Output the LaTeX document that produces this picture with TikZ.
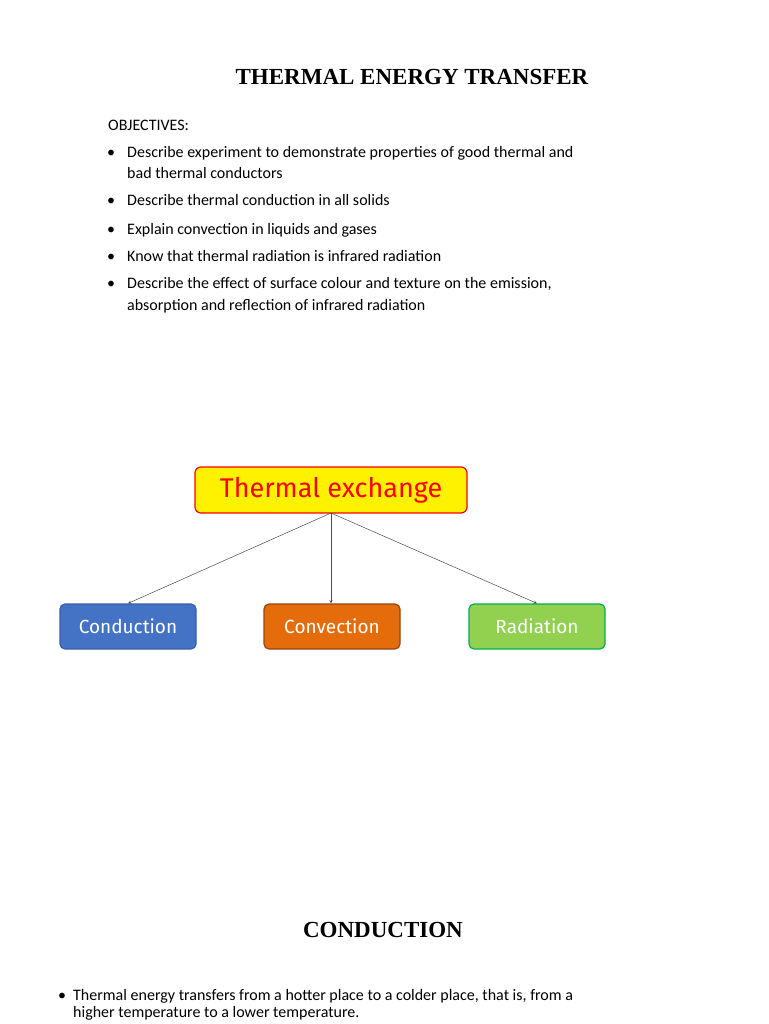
\documentclass[tikz,border=0pt]{standalone}
\usepackage{fontspec}
\setmainfont{Carlito}
\newfontfamily\ttl{Liberation Serif}
\newfontfamily\cms{Fira Sans}
\begin{document}
\begin{tikzpicture}[x=1pt,y=-1pt,
  body/.style={anchor=base west,inner sep=0pt,font=\fontsize{16}{19}\selectfont},
  bul/.style={anchor=base west,inner sep=0pt,font=\fontsize{16}{19}\selectfont},
  head/.style={inner sep=0pt,font=\ttl\bfseries\fontsize{23}{26}\selectfont},
  cat/.style={draw,rounded corners=5pt,line width=1.2pt,minimum width=136pt,minimum height=45pt,inner sep=0pt,text=white,font=\cms\fontsize{19}{22}\selectfont},
  arr/.style={draw=black!70,line width=0.5pt,->,>=stealth}]
\useasboundingbox (0,0) rectangle (768,1024);
\fill[white] (0,0) rectangle (768,1024);
\node[head] (title) at (412,77) {THERMAL ENERGY TRANSFER};
\node[body] (obj) at (108,131) {OBJECTIVES:};
\node[bul] (b1) at (107,158) {•};
\node[body] (l1) at (127,158) {Describe experiment to demonstrate properties of good thermal and};
\node[body] (l1b) at (127,179) {bad thermal conductors};
\node[bul] (b2) at (107,206) {•};
\node[body] (l2) at (127,206) {Describe thermal conduction in all solids};
\node[bul] (b3) at (107,234) {•};
\node[body] (l3) at (127,234) {Explain convection in liquids and gases};
\node[bul] (b4) at (107,261) {•};
\node[body] (l4) at (127,261) {Know that thermal radiation is infrared radiation};
\node[bul] (b5) at (107,288) {•};
\node[body] (l5) at (127,288) {Describe the effect of surface colour and texture on the emission,};
\node[body] (l5b) at (127,310) {absorption and reflection of infrared radiation};
\node[draw=red,fill=yellow,rounded corners=6pt,line width=1.2pt,minimum width=272pt,minimum height=46pt,inner sep=0pt,text=red,font=\cms\fontsize{27}{30}\selectfont] (te) at (331,490) {Thermal exchange};
\node[cat,fill={rgb,255:red,68;green,114;blue,196},draw={rgb,255:red,56;green,96;blue,170}] (cd) at (128,626.5) {Conduction};
\node[cat,fill={rgb,255:red,228;green,108;blue,10},draw={rgb,255:red,150;green,70;blue,20}] (cv) at (332,626.5) {Convection};
\node[cat,fill={rgb,255:red,146;green,208;blue,80},draw={rgb,255:red,0;green,176;blue,80}] (rd) at (537,626.5) {Radiation};
\coordinate (src) at (331,513);
\draw[arr] (src) -- (cd.north);
\draw[arr] (src) -- (cv.north-|src);
\draw[arr] (src) -- (rd.north);
\node[head] (cond) at (383,930) {CONDUCTION};
\node[bul] (b6) at (58,1000) {•};
\node[body] (l6) at (73,1000) {Thermal energy transfers from a hotter place to a colder place, that is, from a};
\node[body] (l6b) at (73,1017) {higher temperature to a lower temperature.};
\end{tikzpicture}
\end{document}
